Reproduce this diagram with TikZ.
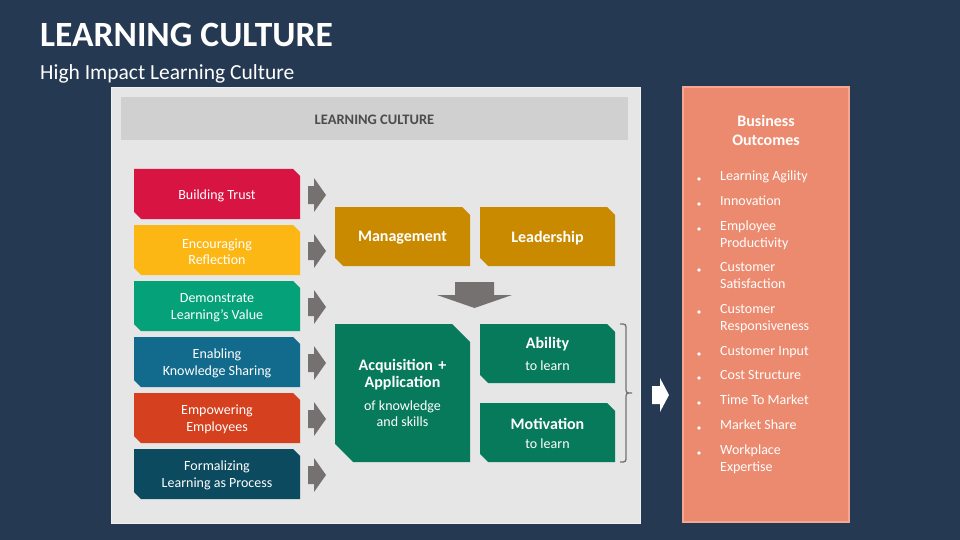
\documentclass[tikz,border=0pt]{standalone}
\usepackage{fontspec}
\setmainfont{Carlito}
\begin{document}
\begin{tikzpicture}[x=1pt,y=-1pt,
  lbl/.style={text=white,font=\fontsize{14}{16.5}\selectfont,align=center},
  blbl/.style={text=white,font=\bfseries\fontsize{16}{18}\selectfont,align=center},
  bul/.style={anchor=north west,text=white,font=\fontsize{14}{17}\selectfont,align=left,inner sep=0pt}]
\definecolor{bg}{RGB}{38,57,82}
\definecolor{panel}{RGB}{230,230,230}
\definecolor{hdr}{RGB}{208,208,208}
\definecolor{arrgray}{RGB}{118,113,113}
\definecolor{c1}{RGB}{216,20,66}
\definecolor{c2}{RGB}{253,183,20}
\definecolor{c3}{RGB}{5,162,122}
\definecolor{c4}{RGB}{18,107,140}
\definecolor{c5}{RGB}{213,64,31}
\definecolor{c6}{RGB}{12,75,95}
\definecolor{gold}{RGB}{201,138,0}
\definecolor{dg}{RGB}{7,122,91}
\definecolor{sal}{RGB}{236,138,111}
\definecolor{salb}{RGB}{244,168,146}
\fill[bg] (0,0) rectangle (960,540);
\useasboundingbox (0,0) rectangle (960,540);
\node[anchor=west,text=white,font=\bfseries\fontsize{35.5}{38}\selectfont,inner sep=0pt] (title) at (40,35) {LEARNING CULTURE};
\node[anchor=west,text=white,font=\fontsize{21.5}{24}\selectfont,inner sep=0pt] (sub) at (40,74) {High Impact Learning Culture};
\draw[panel!60!white,fill=panel,line width=1pt] (111,88) rectangle (640,523);
\fill[hdr] (121,97) rectangle (628,140);
\node[text=black!70,font=\bfseries\fontsize{14.5}{16}\selectfont] (hd) at (374.5,119.5) {LEARNING CULTURE};
\newcommand{\cbox}[6]{%
  \fill[#5] (#1,#2) -- ({#3-#6},#2) -- (#3,{#2+#6}) -- (#3,#4) -- ({#1+#6},#4) -- (#1,{#4-#6}) -- cycle;}
\foreach \y/\c/\t [count=\i] in {169/c1/{Building Trust},225/c2/{Encouraging\\Reflection},281/c3/{Demonstrate\\Learning’s Value},337/c4/{Enabling\\Knowledge Sharing},393/c5/{Empowering\\Employees},449/c6/{Formalizing\\Learning as Process}}{
  \cbox{134}{\y}{300}{\y+50}{\c}{7}
  \node[lbl] (L\i) at (217,\y+26.5) {\t};
  \fill[arrgray] (308,\y+17) -- (314,\y+17) -- (314,\y+9) -- (326,\y+26) -- (314,\y+43) -- (314,\y+35) -- (308,\y+35) -- cycle;
}
\cbox{335}{207}{470}{266}{gold}{8}
\node[blbl] (mg) at (402.5,238) {Management};
\cbox{480}{207}{615}{266}{gold}{8}
\node[blbl] (ld) at (547.5,238) {Leadership};
\fill[arrgray] (455,282) -- (494,282) -- (494,295) -- (512,295) -- (474.5,308) -- (437,295) -- (455,295) -- cycle;
\cbox{335}{324}{470}{462}{dg}{18}
\node[blbl,text width=125] (acq) at (402.5,374.5) {Acquisition +\\[-1pt]Application};
\node[lbl] (acq2) at (402.5,413.5) {of knowledge\\and skills};
\cbox{480}{324}{615}{383}{dg}{8}
\node[blbl] (ab) at (547.5,344.5) {Ability};
\node[lbl] (ab2) at (547.5,365.5) {to learn};
\cbox{480}{403}{615}{462}{dg}{8}
\node[blbl] (mo) at (547.5,423.5) {Motivation};
\node[lbl] (mo2) at (547.5,443.5) {to learn};
\draw[arrgray,line width=1.3pt] (620,324) .. controls (626,324) .. (626,330) -- (626,387) .. controls (626,393) .. (632,393) .. controls (626,393) .. (626,399) -- (626,456) .. controls (626,462) .. (620,462);
\fill[white] (652,386) -- (660,386) -- (660,378) -- (669,395) -- (660,412) -- (660,404) -- (652,404) -- cycle;
\draw[salb,fill=sal,line width=1.5pt] (683,87) rectangle (849,522);
\node[text=white,font=\bfseries\fontsize{16}{19}\selectfont,align=center] (bo) at (766,130) {Business\\Outcomes};
\foreach \y/\t in {171/{Learning Agility},196/{Innovation},221/{Employee\\Productivity},262/{Customer\\Satisfaction},304/{Customer\\Responsiveness},346/{Customer Input},370/{Cost Structure},395/{Time To Market},420/{Market Share},445/{Workplace\\Expertise}}{
  \fill[white] (699,\y+8) circle (1.8);
  \node[bul] at (720,\y) {\t};
}
\end{tikzpicture}
\end{document}
